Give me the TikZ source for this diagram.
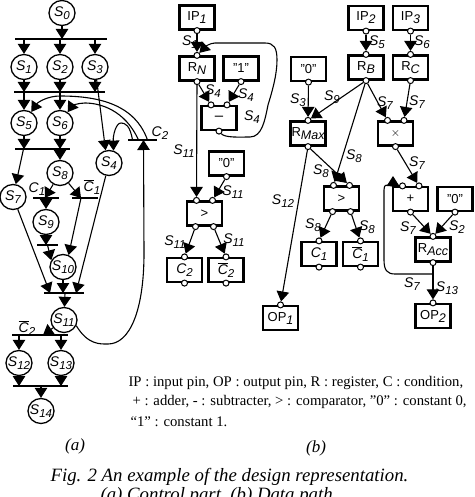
\documentclass[tikz,border=0pt]{standalone}
\usepackage{fontspec}
\setmainfont{Liberation Serif}
\setsansfont{Liberation Sans}
\usetikzlibrary{arrows.meta, shapes.geometric}

\newcommand{\lbl}[2]{{\sffamily\itshape\fontsize{14}{14}\selectfont #1\raisebox{-2.5pt}{\fontsize{11.5}{11.5}\selectfont #2}}}
\newcommand{\plc}[1]{\makebox[0pt]{\lbl{S}{#1}}}
\newcommand{\pinlbl}[2]{{\sffamily\fontsize{13}{13}\selectfont #1\raisebox{-3pt}{\fontsize{12.5}{12.5}\selectfont\itshape #2}}}
\newcommand{\neglbl}[2]{{\sffamily\itshape\fontsize{14}{14}\selectfont $\overline{\mbox{#1}}$\raisebox{-2.5pt}{\fontsize{11.5}{11.5}\selectfont #2}}}

\tikzset{
  place/.style={ellipse, draw, line width=1.3pt, fill=white, inner sep=0pt, minimum width=26pt, minimum height=25pt},
  bar/.style={fill=black, inner sep=0pt, minimum height=2.5pt, minimum width=#1},
  unit/.style={rectangle, draw, line width=2.2pt, fill=white, inner sep=0pt, minimum width=35pt, minimum height=24pt, font=\sffamily\fontsize{13}{13}\selectfont},
  port/.style={circle, draw, line width=1pt, fill=white, inner sep=0pt, minimum size=6pt},
  note/.style={inner sep=0pt, font=\fontsize{14.7}{15}\selectfont},
  caption/.style={inner sep=0pt, font=\itshape\fontsize{18.8}{19}\selectfont},
  part/.style={inner sep=0pt, font=\itshape\fontsize{17}{17}\selectfont}
}

\begin{document}
\begin{tikzpicture}[x=1pt, y=-1pt, ->, >={Triangle[length=10pt,width=12.5pt]}, line width=1.1pt]
      \useasboundingbox (0,0) rectangle (474,497);

      % control part
      \node[bar=92pt] (barA) at (61,39) {};
      \node[bar=91pt] (barB) at (59.5,92) {};
      \node[bar=55pt] (barC) at (42.5,149) {};
      \node[bar=29pt] (barT) at (142.5,140) {};
      \node[bar=26pt] (barP) at (46,198) {};
      \node[bar=26pt] (barQ) at (85,198) {};
      \node[bar=21pt] (barR) at (47.5,245) {};
      \node[bar=40pt] (barJ) at (64,293) {};
      \node[bar=56pt] (barK) at (40,335) {};
      \node[bar=55pt] (barL) at (40.5,386) {};

      \node[place] (sZero) at (62,13) {\plc{0}};
      \node[place] (sOne) at (24,67) {\plc{1}};
      \node[place] (sTwo) at (60,67) {\plc{2}};
      \node[place] (sThree) at (95,67) {\plc{3}};
      \node[place] (sFive) at (24,123) {\plc{5}};
      \node[place] (sSix) at (60,123) {\plc{6}};
      \node[place] (sFour) at (109,163) {\plc{4}};
      \node[place] (sEight) at (60,173) {\plc{8}};
      \node[place] (sSeven) at (13,197) {\plc{7}};
      \node[place] (sNine) at (46,222) {\plc{9}};
      \node[place] (sTen) at (63,267) {\plc{10}};
      \node[place] (sEleven) at (64,320) {\plc{11}};
      \node[place] (sTwelve) at (19,363) {\plc{12}};
      \node[place] (sThirteen) at (61,363) {\plc{13}};
      \node[place] (sFourteen) at (41,411) {\plc{14}};

      \node (lCTwo) at (160,133) {\lbl{C}{2}};
      \node (lCOne) at (37,189) {\lbl{C}{1}};
      \node (lNegCOne) at (92,187) {\neglbl{C}{1}};
      \node (lNegCTwo) at (27,328) {\neglbl{C}{2}};

      \path (sZero) edge (barA -| sZero)
            (barA -| sOne) edge (sOne)
            (barA -| sTwo) edge (sTwo)
            (barA -| sThree) edge (sThree)
            (sOne) edge (barB -| sOne)
            (sTwo) edge (barB -| sTwo)
            (sThree) edge (barB -| sThree)
            (barB -| sFive) edge (sFive)
            (barB -| sSix) edge (sSix)
            (sThree) edge (sFour.105)
            (sFive) edge (barC -| sFive)
            (sSix) edge (barC -| sSix)
            ([xshift=-19pt]barC.center) edge (sSeven)
            (barC -| sEight) edge (sEight)
            (sEight) edge ([xshift=-1pt]barP.center)
            (sEight) edge ([xshift=-4pt]barQ.center)
            (barP -| sNine) edge (sNine)
            (sNine) edge (barR -| sNine)
            ([xshift=0pt]barR.center) edge (sTen.150)
            ([xshift=-4pt]barQ.center) edge (sTen.65)
            (sSeven) edge ([xshift=-14pt]barJ.center)
            (sTen) edge (barJ -| sTen)
            (sFour) edge ([xshift=12pt]barJ.center)
            ([xshift=1pt]barJ.center) edge (sEleven)
            (sEleven) edge ([xshift=3pt]barK.center)
            (barK -| sTwelve) edge (sTwelve)
            (barK -| sThirteen) edge (sThirteen)
            (sTwelve) edge (barL -| sTwelve)
            (sThirteen) edge (barL -| sThirteen)
            (barL -| sFourteen) edge (sFourteen);

      \draw (sEleven.-25) .. controls (88,345) and (100,344) .. (108,344)
            .. controls (130,344) and (144,310) .. (144,253) -- ([xshift=1pt]barT.center);
      \draw ([xshift=5pt]barT.center) .. controls (135,105) and (100,96) .. (60,96)
            .. controls (48,96) and (38,102) .. (sFive);
      \draw ([xshift=-4pt]barT.center) .. controls (125,110) and (100,103) .. (85,103)
            .. controls (78,103) and (72,106) .. (sSix);
      \draw ([xshift=-10pt]barT.center) .. controls (130,125) and (125,123) .. (121,123)
            .. controls (116,123) and (113,135) .. (sFour.70);

      % data path
      \node[unit] (ipOne) at (197,17.5) {\pinlbl{IP}{1}};
      \node[unit] (regN) at (197,68.5) {\pinlbl{R}{N}};
      \node[unit] (oneA) at (241,68.5) {"1"};
      \node[unit] (subA) at (219,118) {\fontsize{15}{15}\selectfont --};
      \node[unit] (zeroA) at (226.5,163.5) {"0"};
      \node[unit] (cmpA) at (204.5,213.5) {>};
      \node[unit] (cTwo) at (184.5,270) {\lbl{C}{2}};
      \node[unit] (negCTwo) at (226,270) {\neglbl{C}{2}};
      \node[unit] (ipTwo) at (366,18) {\pinlbl{IP}{2}};
      \node[unit] (ipThree) at (410.5,18) {\pinlbl{IP}{3}};
      \node[unit] (regB) at (366,67.5) {\pinlbl{R}{B}};
      \node[unit] (regC) at (410.5,67.5) {\pinlbl{R}{C}};
      \node[unit] (zeroB) at (308.5,69) {"0"};
      \node[unit] (regMax) at (308,133.5) {\pinlbl{R}{Max}};
      \node[unit] (mulA) at (395.5,133.5) {$\times$};
      \node[unit] (cmpB) at (341.5,198.5) {>};
      \node[unit] (addA) at (410.5,199) {+};
      \node[unit] (zeroC) at (455,199) {"0"};
      \node[unit] (regAcc) at (433,249.5) {\pinlbl{R}{Acc}};
      \node[unit] (cOne) at (319,254) {\lbl{C}{1}};
      \node[unit] (negCOne) at (360.5,254) {\neglbl{C}{1}};
      \node[unit] (opOne) at (280.5,318) {\pinlbl{OP}{1}};
      \node[unit] (opTwo) at (433,316) {\pinlbl{OP}{2}};

      \node[port] (ipOneB) at (ipOne.south) {};
      \node[port] (regNT) at (regN.north) {};
      \node[port] (regNB) at (regN.south) {};
      \node[port] (oneAB) at (oneA.south) {};
      \node[port] (subAL) at ([xshift=-8pt]subA.north) {};
      \node[port] (subAR) at ([xshift=8pt]subA.north) {};
      \node[port] (subAB) at (subA.south) {};
      \node[port] (zeroAB) at (zeroA.south) {};
      \node[port] (cmpAL) at ([xshift=-8pt]cmpA.north) {};
      \node[port] (cmpAR) at ([xshift=8pt]cmpA.north) {};
      \node[port] (cmpABL) at ([xshift=-9pt]cmpA.south) {};
      \node[port] (cmpABR) at ([xshift=9pt]cmpA.south) {};
      \node[port] (cTwoT) at (cTwo.north) {};
      \node[port] (cTwoB) at (cTwo.south) {};
      \node[port] (negCTwoT) at (negCTwo.north) {};
      \node[port] (negCTwoB) at (negCTwo.south) {};
      \node[port] (ipTwoB) at (ipTwo.south) {};
      \node[port] (ipThreeB) at (ipThree.south) {};
      \node[port] (regBT) at (regB.north) {};
      \node[port] (regBB) at (regB.south) {};
      \node[port] (regCT) at (regC.north) {};
      \node[port] (regCB) at (regC.south) {};
      \node[port] (zeroBB) at (zeroB.south) {};
      \node[port] (regMaxT) at (regMax.north) {};
      \node[port] (regMaxB) at (regMax.south) {};
      \node[port] (mulAL) at ([xshift=-8pt]mulA.north) {};
      \node[port] (mulAR) at ([xshift=8.5pt]mulA.north) {};
      \node[port] (mulAB) at (mulA.south) {};
      \node[port] (cmpBL) at ([xshift=-8pt]cmpB.north) {};
      \node[port] (cmpBR) at ([xshift=8pt]cmpB.north) {};
      \node[port] (cmpBBL) at ([xshift=-9pt]cmpB.south) {};
      \node[port] (cmpBBR) at ([xshift=9pt]cmpB.south) {};
      \node[port] (addAL) at ([xshift=-8pt]addA.north) {};
      \node[port] (addAR) at ([xshift=8.5pt]addA.north) {};
      \node[port] (addAB) at (addA.south) {};
      \node[port] (zeroCB) at (zeroC.south) {};
      \node[port] (regAccT) at (regAcc.north) {};
      \node[port] (regAccB) at (regAcc.south) {};
      \node[port] (cOneT) at (cOne.north) {};
      \node[port] (cOneB) at (cOne.south) {};
      \node[port] (negCOneT) at (negCOne.north) {};
      \node[port] (negCOneB) at (negCOne.south) {};
      \node[port] (opOneT) at (opOne.north) {};
      \node[port] (opTwoT) at (opTwo.north) {};
      \coordinate (addFb) at (393,176);

      \path (ipOneB) edge (regNT)
            (regNB) edge (subAL)
            (oneAB) edge (subAR)
            (regNB) edge (cmpAL)
            (zeroAB) edge (cmpAR)
            (cmpABL) edge (cTwoT)
            (cmpABR) edge (negCTwoT)
            (ipTwoB) edge (regBT)
            (ipThreeB) edge (regCT)
            (zeroBB) edge (regMaxT)
            (regBB) edge (regMaxT)
            (regBB) edge (cmpBL)
            (regBB) edge (mulAL)
            (regCB) edge (mulAR)
            (regMaxB) edge (cmpBR)
            (regMaxB) edge (opOneT)
            (mulAB) edge (addAR)
            (cmpBBL) edge (cOneT)
            (cmpBBR) edge (negCOneT)
            (addAB) edge (regAccT)
            (zeroCB) edge (regAccT)
            (regAccB) edge (opTwoT);

      \draw (subAB) .. controls (225,138) and (240,137) .. (250,137)
            .. controls (262,137) and (265,120) .. (268,105)
            .. controls (272,92) and (277,75) .. (277,60)
            .. controls (277,48) and (274,43) .. (265,43) -- (215,43)
            .. controls (210,43) and (205,47) .. (regNT);
      \draw (regAccB) |- (395,274) .. controls (387,274) and (384,270) .. (384,260) -- (384,190)
            .. controls (384,180) and (393,188) .. (addFb);

      \node (lSa) at (190,42) {\lbl{S}{1}};
      \node (lSb) at (213,91) {\lbl{S}{4}};
      \node (lSc) at (246,95) {\lbl{S}{4}};
      \node (lSd) at (252,117) {\lbl{S}{4}};
      \node (lSe) at (184,151) {\lbl{S}{11}};
      \node (lSf) at (233,192) {\lbl{S}{11}};
      \node (lSg) at (175,242) {\lbl{S}{11}};
      \node (lSh) at (234,240) {\lbl{S}{11}};
      \node (lSi) at (283,201) {\lbl{S}{12}};
      \node (lSj) at (377,42) {\lbl{S}{5}};
      \node (lSk) at (422,42) {\lbl{S}{6}};
      \node (lSl) at (298,100) {\lbl{S}{3}};
      \node (lSm) at (332,97) {\lbl{S}{9}};
      \node (lSn) at (385,103) {\lbl{S}{7}};
      \node (lSo) at (417,102) {\lbl{S}{7}};
      \node (lSp) at (354,156) {\lbl{S}{8}};
      \node (lSq) at (417,163) {\lbl{S}{7}};
      \node (lSr) at (321,171) {\lbl{S}{8}};
      \node (lSs) at (313,225) {\lbl{S}{8}};
      \node (lSt) at (367,227) {\lbl{S}{8}};
      \node (lSu) at (408,228) {\lbl{S}{7}};
      \node (lSv) at (457,227) {\lbl{S}{2}};
      \node (lSw) at (412,284) {\lbl{S}{7}};
      \node (lSx) at (447,288) {\lbl{S}{13}};

      \node[note, anchor=west] (noteA) at (128,383) {IP : input pin, OP : output pin, R : register, C : condition,};
      \node[note, anchor=west] (noteB) at (132,402) {+ : adder, - : subtracter, > : comparator, "0" : constant 0,};
      \node[note, anchor=west] (noteC) at (130,422) {``1'' : constant 1.};
      \node[part] (partA) at (75,446) {(a)};
      \node[part] (partB) at (316,448) {(b)};
      \node[caption, anchor=west] (capA) at (50,477) {Fig. 2 An example of the design representation.};
      \node[caption, anchor=west] (capB) at (100,496) {(a) Control part, (b) Data path.};
\end{tikzpicture}
\end{document}
